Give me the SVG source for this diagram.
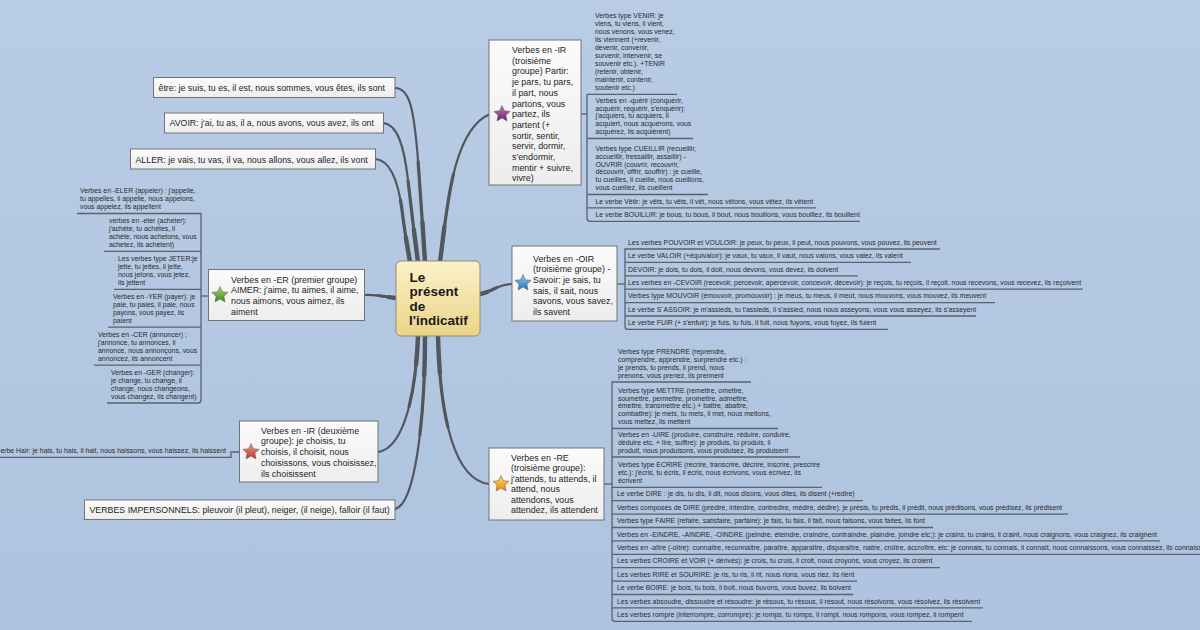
<svg xmlns="http://www.w3.org/2000/svg" width="1200" height="630" viewBox="0 0 1200 630">
<defs>
<linearGradient id="bg" x1="0" y1="0" x2="0" y2="1"><stop offset="0" stop-color="#b8cce5"/><stop offset="1" stop-color="#aec3df"/></linearGradient>
<linearGradient id="cg" x1="0" y1="0" x2="0" y2="1"><stop offset="0" stop-color="#fbf2c8"/><stop offset="1" stop-color="#ebd488"/></linearGradient>
<linearGradient id="bx" x1="0" y1="0" x2="0" y2="1"><stop offset="0" stop-color="#fbfbfb"/><stop offset="1" stop-color="#ededed"/></linearGradient>
<linearGradient id="sp" x1="0" y1="0" x2="0" y2="1"><stop offset="0" stop-color="#c27ab6"/><stop offset="1" stop-color="#6e2266"/></linearGradient>
<linearGradient id="sg" x1="0" y1="0" x2="0" y2="1"><stop offset="0" stop-color="#a6dc6a"/><stop offset="1" stop-color="#3f8a1f"/></linearGradient>
<linearGradient id="sb" x1="0" y1="0" x2="0" y2="1"><stop offset="0" stop-color="#8ccaf0"/><stop offset="1" stop-color="#2a72b2"/></linearGradient>
<linearGradient id="sr" x1="0" y1="0" x2="0" y2="1"><stop offset="0" stop-color="#f59a86"/><stop offset="1" stop-color="#b53a2a"/></linearGradient>
<linearGradient id="so" x1="0" y1="0" x2="0" y2="1"><stop offset="0" stop-color="#ffdc60"/><stop offset="1" stop-color="#e88a0a"/></linearGradient>
<path id="star" d="M0,-8.5 L2.4,-3.3 L8.1,-2.6 L3.9,1.25 L5,6.9 L0,4 L-5,6.9 L-3.9,1.25 L-8.1,-2.6 L-2.4,-3.3 Z"/>
<path id="m1" d="M425 262 C423 230 421 200 418 160 C414 110 410 88 395 88"/>
<path id="m2" d="M418 262 C415 240 412 215 408 180 C404 145 397 124 383 123"/>
<path id="m3" d="M410 262 C408 250 405 235 402 210 C398 180 390 160 375 159"/>
<path id="m4" d="M440 262 C447 210 452 130 490 114"/>
<path id="m5" d="M396 298 C385 297 375 294 364 295"/>
<path id="m6" d="M480 294 C492 292 498 284 512 284"/>
<path id="m7" d="M418 336 C416 390 405 448 378 452"/>
<path id="m8" d="M425 336 C425 420 415 505 395 509"/>
<path id="m9" d="M438 336 C440 420 455 480 489 484"/>
<style>
.box{fill:url(#bx);stroke:#737373;stroke-width:1}
.t{font-family:"Liberation Sans",Arial,sans-serif;font-size:8.9px;fill:#1f1f1f}
.t9{font-family:"Liberation Sans",Arial,sans-serif;font-size:8.8px;fill:#1f1f1f}
.s{font-family:"Liberation Sans",Arial,sans-serif;font-size:6.9px;fill:#2a2a2a}
.c{font-family:"Liberation Sans",Arial,sans-serif;font-size:13.5px;font-weight:bold;fill:#1a1a1a}
.w1{fill:none;stroke:#52575e;stroke-width:2.2;stroke-linecap:round}
.w2{fill:none;stroke:#52575e;stroke-width:3.2;stroke-linecap:round;stroke-dasharray:0 0}
.sub{fill:none;stroke:#5c626b;stroke-width:1.3}
.st{stroke:#555;stroke-width:0.5}
</style>
</defs>
<rect width="1200" height="630" fill="url(#bg)"/>

<g id="connectors">
<g class="w1">
<use href="#m1"/><use href="#m2"/><use href="#m3"/><use href="#m4"/><use href="#m5"/><use href="#m6"/><use href="#m7"/><use href="#m8"/><use href="#m9"/>
</g>
<g fill="none" stroke="#52575e" stroke-linecap="round" stroke-width="3.2">
<path pathLength="100" stroke-dasharray="55 200" d="M425 262 C423 230 421 200 418 160 C414 110 410 88 395 88"/>
<path pathLength="100" stroke-dasharray="55 200" d="M418 262 C415 240 412 215 408 180 C404 145 397 124 383 123"/>
<path pathLength="100" stroke-dasharray="55 200" d="M410 262 C408 250 405 235 402 210 C398 180 390 160 375 159"/>
<path pathLength="100" stroke-dasharray="55 200" d="M440 262 C447 210 452 130 490 114"/>
<path pathLength="100" stroke-dasharray="55 200" d="M396 298 C385 297 375 294 364 295"/>
<path pathLength="100" stroke-dasharray="55 200" d="M480 294 C492 292 498 284 512 284"/>
<path pathLength="100" stroke-dasharray="55 200" d="M418 336 C416 390 405 448 378 452"/>
<path pathLength="100" stroke-dasharray="55 200" d="M425 336 C425 420 415 505 395 509"/>
<path pathLength="100" stroke-dasharray="55 200" d="M438 336 C440 420 455 480 489 484"/>
</g>
<g fill="none" stroke="#52575e" stroke-linecap="round" stroke-width="4.4">
<path pathLength="100" stroke-dasharray="22 200" d="M425 262 C423 230 421 200 418 160 C414 110 410 88 395 88"/>
<path pathLength="100" stroke-dasharray="22 200" d="M418 262 C415 240 412 215 408 180 C404 145 397 124 383 123"/>
<path pathLength="100" stroke-dasharray="22 200" d="M410 262 C408 250 405 235 402 210 C398 180 390 160 375 159"/>
<path pathLength="100" stroke-dasharray="22 200" d="M440 262 C447 210 452 130 490 114"/>
<path pathLength="100" stroke-dasharray="22 200" d="M396 298 C385 297 375 294 364 295"/>
<path pathLength="100" stroke-dasharray="22 200" d="M480 294 C492 292 498 284 512 284"/>
<path pathLength="100" stroke-dasharray="22 200" d="M418 336 C416 390 405 448 378 452"/>
<path pathLength="100" stroke-dasharray="22 200" d="M425 336 C425 420 415 505 395 509"/>
<path pathLength="100" stroke-dasharray="22 200" d="M438 336 C440 420 455 480 489 484"/>
</g>
<!-- ER bracket -->
<path class="sub" d="M201 296 H208"/>
<path class="sub" d="M77 213.5 H201 V400 Q201 403 198 403 H107"/>
<path class="sub" d="M104 251.4 H201 M114 289.3 H201 M108 327.2 H201 M94 365.1 H201"/>
<!-- IR3 bracket -->
<path class="sub" d="M581 114 H587"/>
<path class="sub" d="M677 94.3 H587 V218.3 Q587 221.3 590 221.3 H860"/>
<path class="sub" d="M587 138.5 H693 M587 194.5 H708 M587 207.9 H816"/>
<!-- OIR bracket -->
<path class="sub" d="M617 284 H625"/>
<path class="sub" d="M940 249 H625 V326.4 Q625 329.4 628 329.4 H888"/>
<path class="sub" d="M625 262.4 H911 M625 275.8 H858 M625 289.2 H1083 M625 302.6 H995 M625 316 H976"/>
<!-- RE bracket -->
<path class="sub" d="M604 484 H612"/>
<path class="sub" d="M751 382 H612 V618.3 Q612 621.3 615 621.3 H972"/>
<path class="sub" d="M612 428.5 H778 M612 457 H800 M612 487.3 H822 M612 500.7 H863 M612 514.1 H1068 M612 527.5 H933 M612 540.9 H1160 M612 554.3 H1200 M612 567.7 H940 M612 581.1 H857 M612 594.5 H853 M612 607.9 H983"/>
<!-- IR2 bracket -->
<path class="sub" d="M239 452 H231 V457.3 H0"/>
</g>

<g id="center">
<rect x="396" y="261" width="84" height="75" rx="5" fill="url(#cg)" stroke="#968c6c" stroke-width="1"/>
<text class="c" x="409.5" y="281.5">Le</text>
<text class="c" x="409.5" y="296">présent</text>
<text class="c" x="409.5" y="310.5">de</text>
<text class="c" x="409" y="325">l'indicatif</text>
</g>

<g id="etre">
<rect class="box" x="153.5" y="77.5" width="241.5" height="20"/>
<text class="t9" x="158.5" y="90.5">être: je suis, tu es, il est, nous sommes, vous êtes, ils sont</text>
</g>
<g id="avoir">
<rect class="box" x="164.5" y="113" width="219" height="20"/>
<text class="t9" x="169.5" y="126">AVOIR: j'ai, tu as, il a, nous avons, vous avez, ils ont</text>
</g>
<g id="aller">
<rect class="box" x="130.5" y="149" width="245" height="20"/>
<text class="t9" x="135.5" y="162.5">ALLER: je vais, tu vas, il va, nous allons, vous allez, ils vont</text>
</g>
<g id="impersonnels">
<rect class="box" x="84.5" y="500" width="310.5" height="19.5"/>
<text class="t9" x="89.5" y="513">VERBES IMPERSONNELS: pleuvoir (il pleut), neiger, (il neige), falloir (il faut)</text>
</g>

<g id="ir3">
<rect class="box" x="489" y="40" width="92" height="145"/>
<use href="#star" x="502" y="114" fill="url(#sp)" class="st"/>
<text class="t" x="512" y="53">Verbes en -IR</text>
<text class="t" x="512" y="63.7">(troisième</text>
<text class="t" x="512" y="74.4">groupe) Partir:</text>
<text class="t" x="512" y="85.1">je pars, tu pars,</text>
<text class="t" x="512" y="95.8">il part, nous</text>
<text class="t" x="512" y="106.5">partons, vous</text>
<text class="t" x="512" y="117.2">partez, ils</text>
<text class="t" x="512" y="127.9">partent (+</text>
<text class="t" x="512" y="138.6">sortir, sentir,</text>
<text class="t" x="512" y="149.3">servir, dormir,</text>
<text class="t" x="512" y="160">s'endormir,</text>
<text class="t" x="512" y="170.7">mentir + suivre,</text>
<text class="t" x="512" y="181.4">vivre)</text>
</g>
<g id="venir">
<text class="s" x="595" y="18">Verbes type VENIR: je</text>
<text class="s" x="595" y="26">viens, tu viens, il vient,</text>
<text class="s" x="595" y="34">nous venons, vous venez,</text>
<text class="s" x="595" y="42">ils viennent (+revenir,</text>
<text class="s" x="595" y="50">devenir, convenir,</text>
<text class="s" x="595" y="58">survenir, intervenir, se</text>
<text class="s" x="595" y="66">souvenir etc.). +TENIR</text>
<text class="s" x="595" y="74">(retenir, obtenir,</text>
<text class="s" x="595" y="82">maintenir, contenir,</text>
<text class="s" x="595" y="90">soutenir etc.)</text>
</g>
<g id="querir">
<text class="s" x="595.5" y="102.6">Verbes en -quérir (conquérir,</text>
<text class="s" x="595.5" y="110.5">acquérir, requérir, s'enquérir):</text>
<text class="s" x="595.5" y="118.4">j'acquiers, tu acquiers, il</text>
<text class="s" x="595.5" y="126.3">acquiert, nous acquérons, vous</text>
<text class="s" x="595.5" y="134.2">acquérez, ils acquièrent)</text>
</g>
<g id="cueillir">
<text class="s" x="595.5" y="150.7">Verbes type CUEILLIR (recueillir,</text>
<text class="s" x="595.5" y="158.6">accueillir, tressaillir, assaillir) -</text>
<text class="s" x="595.5" y="166.5">OUVRIR (couvrir, recouvrir,</text>
<text class="s" x="595.5" y="174.4">découvrir, offrir, souffrir) : je cueille,</text>
<text class="s" x="595.5" y="182.3">tu cueilles, il cueille, nous cueillons,</text>
<text class="s" x="595.5" y="190.2">vous cueillez, ils cueillent</text>
</g>
<g id="vetir"><text class="s" x="595.5" y="203.6">Le verbe Vêtir: je vêts, tu vêts, il vêt, nous vêtons, vous vêtez, ils vêtent</text></g>
<g id="bouillir"><text class="s" x="595.5" y="217">Le verbe BOUILLIR: je bous, tu bous, il bout, nous bouillons, vous bouillez, ils bouillent</text></g>

<g id="oir">
<rect class="box" x="512" y="246" width="105" height="75"/>
<use href="#star" x="523" y="283" fill="url(#sb)" class="st"/>
<text class="t" x="533" y="261.5">Verbes en -OIR</text>
<text class="t" x="533" y="272.2">(troisième groupe) -</text>
<text class="t" x="533" y="282.9">Savoir: je sais, tu</text>
<text class="t" x="533" y="293.6">sais, il sait, nous</text>
<text class="t" x="533" y="304.3">savons, vous savez,</text>
<text class="t" x="533" y="315">ils savent</text>
</g>
<g id="pouvoir"><text class="s" x="628" y="244.7">Les verbes POUVOIR et VOULOIR: je peux, tu peux, il peut, nous pouvons, vous pouvez, ils peuvent</text></g>
<g id="valoir"><text class="s" x="628" y="258.1">Le verbe VALOIR (+équivaloir): je vaux, tu vaux, il vaut, nous valons, vous valez, ils valent</text></g>
<g id="devoir"><text class="s" x="628" y="271.5">DEVOIR: je dois, tu dois, il doit, nous devons, vous devez, ils doivent</text></g>
<g id="cevoir"><text class="s" x="628" y="284.9">Les verbes en -CEVOIR (recevoir, percevoir, apercevoir, concevoir, décevoir): je reçois, tu reçois, il reçoit, nous recevons, vous recevez, ils reçoivent</text></g>
<g id="mouvoir"><text class="s" x="628" y="298.3">Verbes type MOUVOIR (émouvoir, promouvoir) : je meus, tu meus, il meut, nous mouvons, vous mouvez, ils meuvent</text></g>
<g id="assoir"><text class="s" x="628" y="311.7">Le verbe S`ASSOIR: je m'assieds, tu t'assieds, il s'assied, nous nous asseyons, vous vous asseyez, ils s'asseyent</text></g>
<g id="fuir"><text class="s" x="628" y="325.1">Le verbe FUIR (+ s'enfuir): je fuis, tu fuis, il fuit, nous fuyons, vous fuyez, ils fuient</text></g>

<g id="er">
<rect class="box" x="208.5" y="269.5" width="156" height="51"/>
<use href="#star" x="220" y="295" fill="url(#sg)" class="st"/>
<text class="t" x="231" y="282.5">Verbes en -ER (premier groupe)</text>
<text class="t" x="231" y="293.3">AIMER: j'aime, tu aimes, il aime,</text>
<text class="t" x="231" y="304.1">nous aimons, vous aimez, ils</text>
<text class="t" x="231" y="314.9">aiment</text>
</g>
<g id="eler">
<text class="s" x="80" y="193.4">Verbes en -ELER (appeler) : j'appelle,</text>
<text class="s" x="80" y="201.3">tu appelles, il appelle, nous appelons,</text>
<text class="s" x="80" y="209.2">vous appelez, ils appellent</text>
</g>
<g id="eter">
<text class="s" x="109" y="223.4">verbes en -eter (acheter):</text>
<text class="s" x="109" y="231.3">j'achète, tu achètes, il</text>
<text class="s" x="109" y="239.2">achète, nous achetons, vous</text>
<text class="s" x="109" y="247.1">achetez, ils achètent)</text>
</g>
<g id="jeter">
<text class="s" x="118" y="261.3">Les verbes type JETER:je</text>
<text class="s" x="118" y="269.2">jette, tu jettes, il jette,</text>
<text class="s" x="118" y="277.1">nous jetons, vous jetez,</text>
<text class="s" x="118" y="285">ils jettent</text>
</g>
<g id="yer">
<text class="s" x="113" y="299.2">Verbes en -YER (payer): je</text>
<text class="s" x="113" y="307.1">paie, tu paies, il paie, nous</text>
<text class="s" x="113" y="315">payons, vous payez, ils</text>
<text class="s" x="113" y="322.9">paient</text>
</g>
<g id="cer">
<text class="s" x="98" y="337.1">Verbes en -CER (annoncer) ;</text>
<text class="s" x="98" y="345">j'annonce, tu annonces, il</text>
<text class="s" x="98" y="352.9">annonce, nous annonçons, vous</text>
<text class="s" x="98" y="360.8">annoncez, ils annoncent</text>
</g>
<g id="ger">
<text class="s" x="111" y="375">Verbes en -GER (changer):</text>
<text class="s" x="111" y="382.9">je change, tu change, il</text>
<text class="s" x="111" y="390.8">change, nous changeons,</text>
<text class="s" x="111" y="398.7">vous changez, ils changent)</text>
</g>

<g id="ir2">
<rect class="box" x="239.5" y="421" width="138.5" height="61"/>
<use href="#star" x="251" y="452" fill="url(#sr)" class="st"/>
<text class="t" x="261" y="433.5">Verbes en -IR (deuxième</text>
<text class="t" x="261" y="444.3">groupe): je choisis, tu</text>
<text class="t" x="261" y="455.1">choisis, il choisit, nous</text>
<text class="t" x="261" y="465.9">choisissons, vous choisissez,</text>
<text class="t" x="261" y="476.7">ils choisissent</text>
</g>
<g id="hair"><text class="s" x="226" y="453" text-anchor="end">erbe Hair: je hais, tu hais, il hait, nous haissons, vous haissez, ils haissent</text></g>

<g id="re">
<rect class="box" x="489" y="448" width="115" height="72"/>
<use href="#star" x="501" y="484" fill="url(#so)" class="st"/>
<text class="t" x="511" y="461">Verbes en -RE</text>
<text class="t" x="511" y="471.4">(troisième groupe):</text>
<text class="t" x="511" y="481.8">j'attends, tu attends, il</text>
<text class="t" x="511" y="492.2">attend, nous</text>
<text class="t" x="511" y="502.6">attendons, vous</text>
<text class="t" x="511" y="513">attendez, ils attendent</text>
</g>
<g id="prendre">
<text class="s" x="618" y="354">Verbes type PRENDRE (reprendre,</text>
<text class="s" x="618" y="361.9">comprendre, apprendre, surprendre etc.) :</text>
<text class="s" x="618" y="369.8">je prends, tu prends, il prend, nous</text>
<text class="s" x="618" y="377.7">prenons, vous prenez, ils prennent</text>
</g>
<g id="mettre">
<text class="s" x="618" y="392.6">Verbes type METTRE (remettre, omettre,</text>
<text class="s" x="618" y="400.5">soumettre, permettre, promettre, admettre,</text>
<text class="s" x="618" y="408.4">émettre, transmettre etc.) + battre, abattre,</text>
<text class="s" x="618" y="416.3">combattre): je mets, tu mets, il met, nous mettons,</text>
<text class="s" x="618" y="424.2">vous mettez, ils mettent</text>
</g>
<g id="uire">
<text class="s" x="618" y="436.9">Verbes en -UIRE (produire, construire, réduire, conduire,</text>
<text class="s" x="618" y="444.8">déduire etc. + lire, suffire): je produis, tu produis, il</text>
<text class="s" x="618" y="452.7">produit, nous produisons, vous produisez, ils produisent</text>
</g>
<g id="ecrire">
<text class="s" x="618" y="467.2">Verbes type ECRIRE (récrire, transcrire, décrire, inscrire, prescrire</text>
<text class="s" x="618" y="475.1">etc.): j'écris, tu écris, il écris, nous écrivons, vous écrivez, ils</text>
<text class="s" x="618" y="483">écrivent</text>
</g>
<g id="dire"><text class="s" x="617" y="496.4">Le verbe DIRE : je dis, tu dis, il dit, nous disons, vous dites, ils disent (+redire)</text></g>
<g id="predire"><text class="s" x="617" y="509.8">Verbes composés de DIRE (prédire, interdire, contredire, médire, dédire); je présis, tu prédis, il prédit, nous prédisons, vous prédisez, ils prédisent</text></g>
<g id="faire"><text class="s" x="617" y="523.2">Verbes type FAIRE (refaire, satisfaire, parfaire): je fais, tu fais, il fait, nous faisons, vous faites, ils font</text></g>
<g id="eindre"><text class="s" x="617" y="536.6">Verbes en -EINDRE, -AINDRE, -OINDRE (peindre, éteindre, craindre, contraindre, plaindre, joindre etc;): je crains, tu crains, il craint, nous craignons, vous craignez, ils craignent</text></g>
<g id="aitre"><text class="s" x="617" y="550">Verbes en -aître (-oître): connaître, reconnaître, paraître, apparaître, disparaître, naitre, croître, accroître, etc: je connais, tu connais, il connaît, nous connaissons, vous connaissez, ils connaiss</text></g>
<g id="croire"><text class="s" x="617" y="563.4">Les verbes  CROIRE  et VOIR (+ dérivés): je crois, tu crois, il croit, nous croyons, vous croyez, ils croient</text></g>
<g id="rire"><text class="s" x="617" y="576.8">Les verbes RIRE et SOURIRE: je ris, tu ris, il rit, nous rions, vous riez, ils rient</text></g>
<g id="boire"><text class="s" x="617" y="590.2">Le verbe BOIRE: je bois, tu bois, il boit, nous buvons, vous buvez, ils boivent</text></g>
<g id="absoudre"><text class="s" x="617" y="603.6">Les verbes absoudre, dissoudre et  résoudre: je résous, tu résous, il résout, nous résolvons, vous résolvez, ils résolvent</text></g>
<g id="rompre"><text class="s" x="617" y="617">Les verbes rompre (interrompre, corrompre): je romps, tu romps, il rompt, nous rompons, vous rompez, il rompent</text></g>
</svg>
